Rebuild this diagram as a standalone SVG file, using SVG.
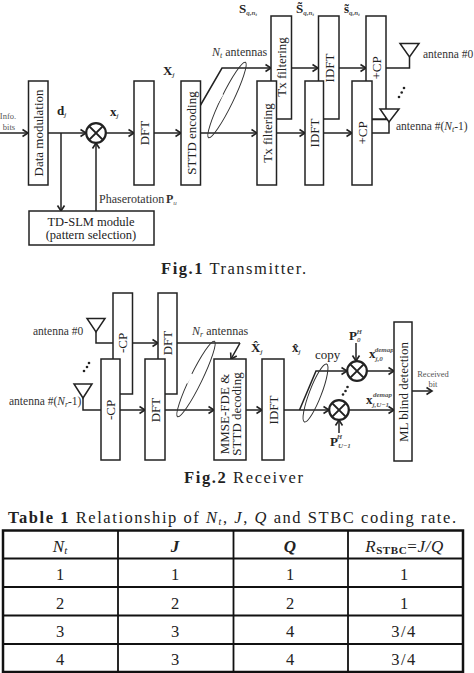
<svg xmlns="http://www.w3.org/2000/svg" width="474" height="673" viewBox="0 0 474 673">
<style>
text{font-family:"Liberation Serif","Times New Roman",serif;fill:#222}
.b{fill:#fff;stroke:#222;stroke-width:1.5}
.l{fill:none;stroke:#222;stroke-width:1.5}
.a{marker-end:url(#ah)}
.e{fill:none;stroke:#333;stroke-width:1}
.g{stroke:#fff;stroke-width:3;fill:none}
.x{fill:#fff;stroke:#222;stroke-width:2.2}
.r{font-size:13px;text-anchor:middle;dominant-baseline:central}
.t{font-size:11.5px;fill:#333}
.s{font-size:8.5px;fill:#555;text-anchor:middle}
.m{font-weight:bold;font-size:13px}
.u{font-size:7px;font-style:italic;fill:#555}
.cap{font-size:16.5px}
.c{font-size:16.5px;text-anchor:middle}
.w{letter-spacing:1.5px}
.h{font-size:17px;text-anchor:middle;font-style:italic}
.d{fill:#222}
</style>
<defs>
<marker id="ah" markerUnits="userSpaceOnUse" markerWidth="10" markerHeight="10" refX="7.5" refY="5" orient="auto"><path d="M2 1.5L7.5 5L2 8.5" fill="none" stroke="#222" stroke-width="1.6"/></marker>
<g id="cross"><circle r="9.8" class="x"/><path d="M-6.9 -6.9L6.9 6.9M-6.9 6.9L6.9 -6.9" stroke="#222" stroke-width="2"/></g>
</defs>

<g id="connectors">
<path class="l a" d="M0 133H28"/>
<path class="l a" d="M48 133H86"/>
<path class="l a" d="M61 133V211"/>
<path class="l a" d="M96 211V143"/>
<path class="l a" d="M106 133H134"/>
<path class="l a" d="M154 133H181"/>
<path class="l" d="M200 133H209"/>
<path class="l a" d="M209 133H257"/>
<path class="l a" d="M200 106L222 68H271"/>
<path class="l a" d="M292 68H318"/>
<path class="l a" d="M339 68H366"/>
<path class="l" d="M386 68H409.500V57"/>
<path class="l a" d="M276 133H305"/>
<path class="l a" d="M323 133H352"/>
<path class="l" d="M372 133H389V122M372 119.500H389"/>
<path class="l" d="M96 332V343H113"/>
<path class="l a" d="M132 343H158"/>
<path class="l" d="M177 343H240"/>
<path class="l a" d="M240 343L231 359"/>
<path class="l" d="M83 398V410H101"/>
<path class="l a" d="M120 410H145"/>
<path class="l a" d="M165 410H214"/>
<path class="l a" d="M246 410H262"/>
<path class="l a" d="M284 410H329"/>
<path class="l a" d="M299.500 410L316 371H347"/>
<path class="l a" d="M367 371H394"/>
<path class="l a" d="M349 410H394"/>
<path class="l a" d="M356 343V361"/>
<path class="l a" d="M339 433V420"/>
<path class="l a" d="M412 391H432"/>
</g>

<g id="tx-ellipse"><ellipse class="e" cx="227" cy="100" rx="6" ry="42" transform="rotate(26 227 100)"/><path class="g" d="M222 94L217 102"/></g>
<g id="rx-ellipse"><ellipse class="e" cx="196" cy="379" rx="6" ry="42" transform="rotate(26 196 379)"/><path class="g" d="M192 374L186 383"/></g>
<g id="copy-ellipse"><ellipse class="e" cx="315.500" cy="393" rx="6" ry="31" transform="rotate(21 315.500 393)"/></g>

<g id="data-mod"><rect class="b" x="28.500" y="81" width="19.500" height="104"/><text class="r" transform="translate(38.500 133) rotate(-90)">Data modulation</text></g>
<g id="mult-tx"><use href="#cross" x="96" y="133"/></g>
<g id="dft-tx"><rect class="b" x="134" y="81" width="20" height="104"/><text class="r" transform="translate(144 133) rotate(-90)">DFT</text></g>
<g id="sttd"><rect class="b" x="181" y="81" width="19.500" height="104"/><text class="r" transform="translate(191 133) rotate(-90)">STTD encoding</text></g>
<g id="slm"><rect class="b" x="29" y="211" width="125" height="34"/><text x="91" y="225.500" font-size="12.500" text-anchor="middle">TD-SLM module</text><text x="91" y="238.500" font-size="12.500" text-anchor="middle">(pattern selection)</text></g>

<g id="tx-filter-0"><rect class="b" x="271" y="16" width="20.500" height="103"/><text class="r" transform="translate(281.500 67) rotate(-90)">Tx filtering</text></g>
<g id="idft-0"><rect class="b" x="318.500" y="16" width="20.500" height="103"/><text class="r" transform="translate(329 68) rotate(-90)">IDFT</text></g>
<g id="cp-0"><rect class="b" x="366" y="16" width="20" height="103"/><text class="r" transform="translate(376 68) rotate(-90)">+CP</text></g>
<g id="tx-filter-1"><rect class="b" x="257" y="81" width="19.500" height="104"/><text class="r" transform="translate(267 133) rotate(-90)">Tx filtering</text></g>
<g id="idft-1"><rect class="b" x="305" y="81" width="18.500" height="104"/><text class="r" transform="translate(314.500 133) rotate(-90)">IDFT</text></g>
<g id="cp-1"><rect class="b" x="352" y="81" width="20" height="104"/><text class="r" transform="translate(362 133) rotate(-90)">+CP</text></g>
<g id="ant-tx-0"><path class="b" d="M400 43.500H419L409.500 57Z"/><text class="t" x="423" y="58">antenna #0</text></g>
<g id="ant-tx-1"><path class="b" d="M380 109H399L389 122Z"/><text class="t" x="396" y="130">antenna #(<tspan font-style="italic">N<tspan font-size="8" dy="2">t</tspan></tspan><tspan dy="-2">-1)</tspan></text></g>
<g id="dots-tx" class="d"><circle cx="399" cy="97" r="1.300"/><circle cx="401.700" cy="92.500" r="1.300"/><circle cx="404" cy="88" r="1.300"/></g>

<g id="cp-r0"><rect class="b" x="113" y="293" width="19.500" height="101"/><text class="r" transform="translate(122.500 343) rotate(-90)">-CP</text></g>
<g id="dft-r0"><rect class="b" x="158" y="293" width="19" height="101"/><text class="r" transform="translate(167.500 343) rotate(-90)">DFT</text></g>
<g id="cp-r1"><rect class="b" x="101" y="359" width="19" height="101"/><text class="r" transform="translate(110.500 410) rotate(-90)">-CP</text></g>
<g id="dft-r1"><rect class="b" x="145" y="359" width="20" height="101"/><text class="r" transform="translate(155 410) rotate(-90)">DFT</text></g>
<g id="mmse"><rect class="b" x="214" y="359" width="32" height="101"/><text class="r" transform="translate(224 414) rotate(-90)">MMSE-FDE &amp;</text><text class="r" transform="translate(236 414) rotate(-90)">STTD decoding</text></g>
<g id="idft-r"><rect class="b" x="262" y="359" width="22" height="101"/><text class="r" transform="translate(273 410) rotate(-90)">IDFT</text></g>
<g id="ml"><rect class="b" x="394" y="322" width="18" height="139"/><text class="r" transform="translate(403 392) rotate(-90)">ML blind detection</text></g>
<g id="mult-r0"><use href="#cross" x="357" y="371"/></g>
<g id="mult-r1"><use href="#cross" x="339" y="410"/></g>
<g id="ant-rx-0"><path class="b" d="M87 318.500H105L96 332Z"/><text class="t" x="33" y="335">antenna #0</text></g>
<g id="ant-rx-1"><path class="b" d="M74 384H92L83 398Z"/><text class="t" x="9" y="405">antenna #(<tspan font-style="italic">N<tspan font-size="8" dy="2">r</tspan></tspan><tspan dy="-2">-1)</tspan></text></g>
<g id="dots-rx" class="d"><circle cx="84" cy="371" r="1.300"/><circle cx="87" cy="367" r="1.300"/><circle cx="89" cy="363" r="1.300"/></g>
<g id="dots-copy" class="d"><circle cx="343" cy="394.500" r="1.300"/><circle cx="345.500" cy="391" r="1.300"/><circle cx="347.500" cy="387" r="1.300"/></g>

<g id="labels">
<text class="s" x="8" y="119">Info.</text><text class="s" x="9" y="130">bits</text>
<text class="m" x="57" y="115">d<tspan class="u" dy="2">j</tspan></text>
<text class="m" x="110" y="116">x<tspan class="u" dy="2">j</tspan></text>
<text class="m" x="163" y="75">X<tspan class="u" dy="2">j</tspan></text>
<text class="t" x="99" y="203" style="font-size:12px">Phaserotation <tspan font-weight="bold" x="166">P</tspan><tspan class="u" dy="2">u</tspan></text>
<text class="t" x="212" y="56" style="font-size:12px"><tspan font-style="italic">N<tspan font-size="8" dy="2">t</tspan></tspan><tspan dy="-2"> antennas</tspan></text>
<text class="m" x="239" y="13">S<tspan class="u" dy="2">q,n<tspan font-size="5" dy="1">t</tspan></tspan></text>
<text class="m" x="296" y="13">S&#771;<tspan class="u" dy="2">q,n<tspan font-size="5" dy="1">t</tspan></tspan></text>
<text class="m" x="344" y="13">s&#771;<tspan class="u" dy="2">q,n<tspan font-size="5" dy="1">t</tspan></tspan></text>
<text class="t" x="192" y="335" style="font-size:12px"><tspan font-style="italic">N<tspan font-size="8" dy="2">r</tspan></tspan><tspan dy="-2"> antennas</tspan></text>
<text class="m" x="251" y="352">X&#770;<tspan class="u" dy="2">j</tspan></text>
<text class="m" x="292" y="352">x&#770;<tspan class="u" dy="2">j</tspan></text>
<text x="315" y="359" font-size="13" fill="#333">copy</text>
<text class="m" x="349" y="340">P<tspan class="u" dy="2">0</tspan><tspan class="u" dx="-4" dy="-8">H</tspan></text>
<text class="m" x="330" y="446">P<tspan class="u" dy="2">U−1</tspan><tspan class="u" dx="-14" dy="-9">H</tspan></text>
<text class="m" x="369" y="358">x<tspan class="u" dy="3">j,0</tspan><tspan class="u" dx="-8" dy="-9">demap</tspan></text>
<text class="m" x="366" y="404">x<tspan class="u" dy="3">j,U−1</tspan><tspan class="u" dx="-16" dy="-10">demap</tspan></text>
<text class="s" x="433" y="377">Received</text><text class="s" x="433" y="387">bit</text>
</g>

<g id="captions">
<text class="cap" x="161" y="274" textLength="145" lengthAdjust="spacing"><tspan font-weight="bold">Fig.1</tspan> Transmitter.</text>
<text class="cap" x="184" y="483" textLength="119" lengthAdjust="spacing"><tspan font-weight="bold">Fig.2</tspan> Receiver</text>
<text class="cap" x="8" y="523" textLength="448" lengthAdjust="spacing"><tspan font-weight="bold">Table 1</tspan> Relationship of <tspan font-style="italic">N<tspan font-size="10" dy="2">t</tspan></tspan><tspan dy="-2">, </tspan><tspan font-style="italic">J</tspan>, <tspan font-style="italic">Q</tspan> and STBC coding rate.</text>
</g>

<g id="table">
<path d="M3 530.500H463V672H3Z" fill="#fff" stroke="#111" stroke-width="2.500"/>
<path d="M118 530.500V672M233.500 530.500V672M348 530.500V672M3 558.500H463M3 587H463M3 615.500H463M3 644H463" fill="none" stroke="#111" stroke-width="1.800"/>
<text class="h" x="60" y="552">N<tspan font-size="11" dy="2">t</tspan></text>
<text class="h" x="175" y="552" font-weight="bold">J</text>
<text class="h" x="290" y="552" font-weight="bold">Q</text>
<text class="h" x="404.500" y="552" style="letter-spacing:.6px">R<tspan font-size="11" font-weight="bold" font-style="normal" dy="2">STBC</tspan><tspan dy="-2" font-style="normal">=</tspan>J/Q</text>
<text class="c" x="60" y="580">1</text><text class="c" x="175" y="580">1</text><text class="c" x="290" y="580">1</text><text class="c" x="404" y="580">1</text>
<text class="c" x="60" y="609">2</text><text class="c" x="175" y="609">2</text><text class="c" x="290" y="609">2</text><text class="c" x="404" y="609">1</text>
<text class="c" x="60" y="637">3</text><text class="c" x="175" y="637">3</text><text class="c" x="290" y="637">4</text><text class="c w" x="404" y="637">3/4</text>
<text class="c" x="60" y="665">4</text><text class="c" x="175" y="665">3</text><text class="c" x="290" y="665">4</text><text class="c w" x="404" y="665">3/4</text>
</g>
</svg>
